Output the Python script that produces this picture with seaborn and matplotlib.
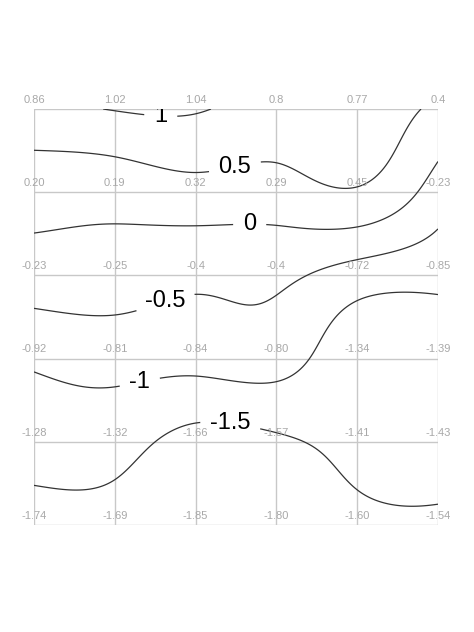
import numpy as np
import pandas as pd
import matplotlib
matplotlib.use("Agg")
import matplotlib.pyplot as plt
import matplotlib.transforms as mtransforms
import seaborn as sns

# ---- data (grid node values, rows top -> bottom, columns left -> right) ----
row0 = ["0.86", "1.02", "1.04", "0.8", "0.77", "0.4"]
row1 = ["0.20", "0.19", "0.32", "0.29", "0.45", "-0.23"]
row2 = ["-0.23", "-0.25", "-0.4", "-0.4", "-0.72", "-0.85"]
row3 = ["-0.92", "-0.81", "-0.84", "-0.80", "-1.34", "-1.39"]
row4 = ["-1.28", "-1.32", "-1.66", "-1.57", "-1.41", "-1.43"]
row5 = ["-1.74", "-1.69", "-1.85", "-1.80", "-1.60", "-1.54"]
levels = [-1.5, -1.0, -0.5, 0.0, 0.5, 1.0]
level_labels = {-1.5: "-1.5", -1.0: "-1", -0.5: "-0.5", 0.0: "0", 0.5: "0.5", 1.0: "1"}

label_rows = [row0, row1, row2, row3, row4, row5]
Z = np.array([[float(s) for s in r] for r in label_rows])
nr, nc = Z.shape


def spline_matrix(n, t):
    """Natural cubic spline weights on uniform knots 0..n-1 evaluated at t."""
    W = np.zeros((len(t), n))
    for j in range(n):
        y = np.zeros(n)
        y[j] = 1.0
        A = np.zeros((n, n))
        b = np.zeros(n)
        A[0, 0] = 1
        A[-1, -1] = 1
        for i in range(1, n - 1):
            A[i, i - 1] = 1
            A[i, i] = 4
            A[i, i + 1] = 1
            b[i] = 6 * (y[i - 1] - 2 * y[i] + y[i + 1])
        M = np.linalg.solve(A, b)
        k = np.clip(np.floor(t).astype(int), 0, n - 2)
        u = t - k
        W[:, j] = ((1 - u) * y[k] + u * y[k + 1]
                   + ((1 - u) ** 3 - (1 - u)) * M[k] / 6
                   + (u ** 3 - u) * M[k + 1] / 6)
    return W


tx = np.linspace(0, nc - 1, 201)
ty = np.linspace(0, nr - 1, 201)
Zf = spline_matrix(nr, ty) @ Z @ spline_matrix(nc, tx).T
XX, YY = np.meshgrid(tx, ty)

sns.set_theme(style="white")
plt.rcParams["font.family"] = ["Liberation Sans", "DejaVu Sans"]
plt.rcParams["contour.negative_linestyle"] = "solid"

fig = plt.figure(figsize=(4.74, 6.32), dpi=100)
W_px, H_px = 474, 632
ax = fig.add_axes([34 / W_px, 1 - 525 / H_px, 404 / W_px, 416 / H_px])
ax.set_xlim(0, nc - 1)
ax.set_ylim(nr - 1, 0)
ax.axis("off")

grid_c = "#c8c8c8"
for j in range(nc):
    ax.axvline(j, color=grid_c, lw=1.0, zorder=1)
for i in range(nr):
    ax.axhline(i, color=grid_c, lw=1.0, zorder=1)

cs = ax.contour(XX, YY, Zf, levels=levels, colors="#333333", linewidths=0.9,
                linestyles="solid", zorder=3)
label_pos = [(1.56, 0.23), (2.46, 0.58), (2.67, 1.5), (1.62, 2.3), (1.37, 3.56), (2.45, 3.64)]
cl = ax.clabel(cs, levels=levels, fmt=level_labels, fontsize=17, colors="black",
               inline=True, inline_spacing=10, manual=label_pos)
for t in cl:
    t.set_rotation(0)

off = mtransforms.offset_copy(ax.transData, fig=fig, x=0, y=4.5, units="points")
for i in range(nr):
    for j in range(nc):
        ax.text(j, i, label_rows[i][j], transform=off, ha="center", va="baseline",
                fontsize=8, color="#a8a8a8", zorder=4, clip_on=False)

fig.savefig("out.png", dpi=100, facecolor="white")
